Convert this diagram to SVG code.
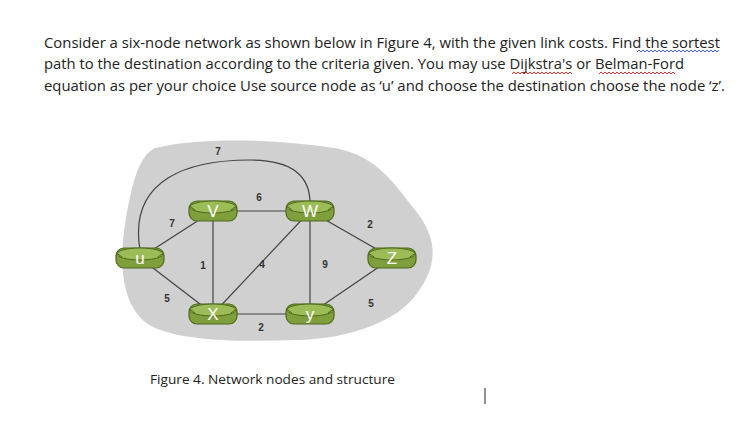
<svg xmlns="http://www.w3.org/2000/svg" width="741" height="440" viewBox="0 0 741 440">
<style>
.t{font-family:"Open Sans","Liberation Sans",sans-serif;font-size:14.5px;fill:#222}
.c{font-family:"Liberation Sans",sans-serif;font-size:10px;font-weight:bold;fill:#333;text-anchor:middle}
.e{stroke:#444;stroke-width:1.2;fill:none}
.nb{fill:#7f9f3c;stroke:#4e6a1e;stroke-width:1.2}
.nt{fill:#9cbc58;stroke:#4e6a1e;stroke-width:1}
.nl{font-family:"Liberation Sans",sans-serif;font-size:17px;fill:#fff;text-anchor:middle}
.w{fill:none;stroke-width:1}
</style>
<rect width="741" height="440" fill="#fff"/>
<text class="t" x="44" y="48" textLength="676" lengthAdjust="spacingAndGlyphs">Consider a six-node network as shown below in Figure 4, with the given link costs. Find the sortest</text>
<text class="t" x="44" y="69" textLength="640" lengthAdjust="spacingAndGlyphs">path to the destination according to the criteria given. You may use Dijkstra's or Belman-Ford</text>
<text class="t" x="44" y="91" textLength="681" lengthAdjust="spacingAndGlyphs">equation as per your choice Use source node as ‘u’ and choose the destination choose the node ‘z’.</text>
<path class="w" stroke="#4060d0" d="M637,52 l2,-2 2,2 2,-2 2,2 2,-2 2,2 2,-2 2,2 2,-2 2,2 2,-2 2,2 2,-2 2,2 2,-2 2,2 2,-2 2,2 2,-2 2,2 2,-2 2,2 2,-2 2,2 2,-2 2,2 2,-2 2,2 2,-2 2,2 2,-2 2,2 2,-2 2,2 2,-2 2,2 2,-2 2,2 2,-2 2,2 2,-2"/>
<path class="w" stroke="#d03030" d="M512,74 l2,-2 2,2 2,-2 2,2 2,-2 2,2 2,-2 2,2 2,-2 2,2 2,-2 2,2 2,-2 2,2 2,-2 2,2 2,-2 2,2 2,-2 2,2 2,-2 2,2 2,-2 2,2 2,-2 2,2 2,-2 2,2 2,-2 2,2"/>
<path class="w" stroke="#d03030" d="M599,74 l2,-2 2,2 2,-2 2,2 2,-2 2,2 2,-2 2,2 2,-2 2,2 2,-2 2,2 2,-2 2,2 2,-2 2,2 2,-2 2,2 2,-2 2,2 2,-2 2,2 2,-2 2,2 2,-2 2,2 2,-2 2,2 2,-2 2,2 2,-2 2,2 2,-2 2,2 2,-2 2,2 2,-2 2,2"/>
<path fill="#d0d0d0" d="M155,148 C205,136 280,140 335,148 C378,156 395,185 415,210 C438,238 438,265 418,292 C398,322 350,338 300,340 C240,342 172,342 145,322 C122,302 118,265 126,218 C132,185 138,156 155,148 Z"/>
<g id="edges">
<path class="e" d="M140,250 C128,178 190,160 250,160 C300,160 310,182 310,203"/>
<line class="e" x1="140" y1="258" x2="213" y2="211"/>
<line class="e" x1="140" y1="258" x2="213" y2="314"/>
<line class="e" x1="213" y1="211" x2="310" y2="211"/>
<line class="e" x1="213" y1="211" x2="213" y2="314"/>
<line class="e" x1="213" y1="314" x2="310" y2="211"/>
<line class="e" x1="213" y1="314" x2="310" y2="314"/>
<line class="e" x1="310" y1="211" x2="310" y2="314"/>
<line class="e" x1="310" y1="211" x2="392" y2="258"/>
<line class="e" x1="310" y1="314" x2="392" y2="258"/>
</g>
<g id="costs">
<text class="c" x="218" y="155">7</text>
<text class="c" x="172" y="227">7</text>
<text class="c" x="259" y="201">6</text>
<text class="c" x="203" y="269">1</text>
<text class="c" x="262" y="268">4</text>
<text class="c" x="325" y="268">9</text>
<text class="c" x="370" y="228">2</text>
<text class="c" x="167" y="302">5</text>
<text class="c" x="261" y="331">2</text>
<text class="c" x="371" y="307">5</text>
</g>
<defs>
<g id="rt">
<rect class="nb" x="-24" y="-10" width="48" height="20" rx="8"/>
<ellipse class="nt" cx="0" cy="-4" rx="23" ry="6"/>
<path d="M-22,-4 l4,3 M22,-4 l-4,3" stroke="#4e6a1e" stroke-width="1"/>
</g>
</defs>
<g id="node-u" transform="translate(140,258)"><use href="#rt"/><text class="nl" y="6">u</text></g>
<g id="node-v" transform="translate(213,211)"><use href="#rt"/><text class="nl" y="6">V</text></g>
<g id="node-w" transform="translate(310,211)"><use href="#rt"/><text class="nl" y="6">W</text></g>
<g id="node-z" transform="translate(392,258)"><use href="#rt"/><text class="nl" y="6">Z</text></g>
<g id="node-x" transform="translate(213,314)"><use href="#rt"/><text class="nl" y="6">X</text></g>
<g id="node-y" transform="translate(310,314)"><use href="#rt"/><text class="nl" y="6">y</text></g>
<text x="150" y="384" font-family="'Open Sans','Liberation Sans',sans-serif" font-size="13" fill="#222" textLength="245" lengthAdjust="spacingAndGlyphs">Figure 4. Network nodes and structure</text>
<line x1="485" y1="388" x2="485" y2="404" stroke="#222" stroke-width="1"/>
</svg>
